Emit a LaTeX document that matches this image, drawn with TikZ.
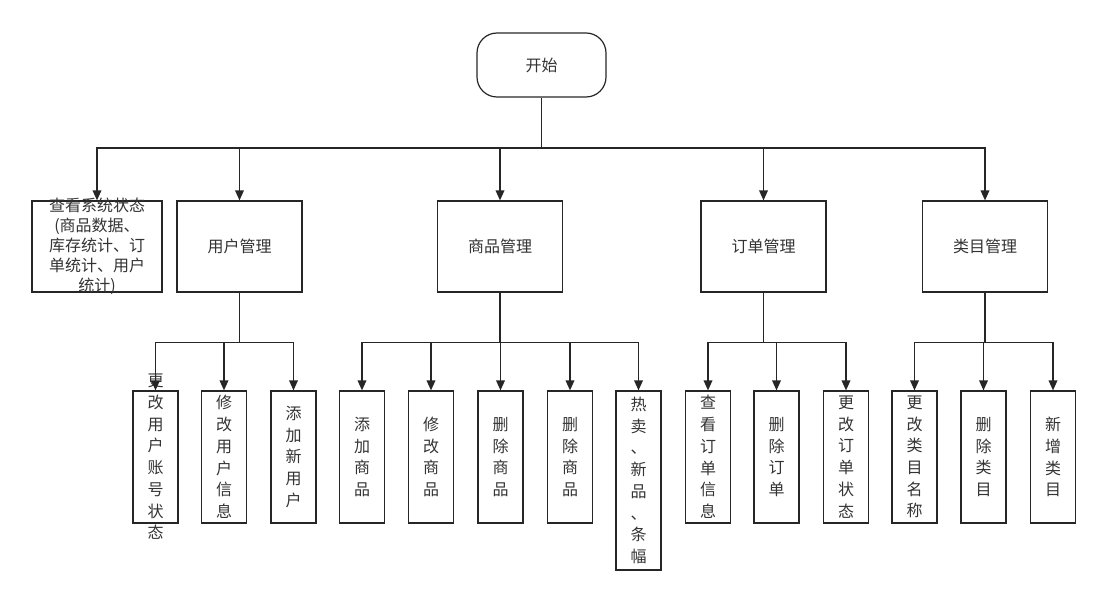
\documentclass[tikz,border=0pt]{standalone}
\usepackage{fontspec}
\newfontfamily\cjk{Noto Sans CJK SC}
\usetikzlibrary{arrows.meta}
\begin{document}
\begin{tikzpicture}[x=0.75pt,y=-0.75pt,
  line/.style={draw=black!85,line width=1pt},
  arr/.style={line,-{Triangle[width=6.5pt,length=7.5pt]}},
  boxbase/.style={draw=black!85,line width=0.9pt,inner sep=0pt},
  startbox/.style={boxbase,rounded corners=15pt,minimum width=96.75pt,minimum height=48pt,font=\cjk\fontsize{12}{15}\selectfont,text=black!80},
  topbox/.style={boxbase,minimum width=93.75pt,minimum height=68.25pt,font=\cjk\fontsize{12}{15}\selectfont,text=black!80,align=center},
  leaf/.style={boxbase,minimum width=33.75pt,minimum height=99pt},
  tallleaf/.style={boxbase,minimum width=33.75pt,minimum height=134.25pt},
  vtext/.style={inner sep=0pt,font=\cjk\fontsize{12}{16.3}\selectfont,text=black!80,align=center},
  ttext/.style={inner sep=0pt,font=\cjk\fontsize{12}{15}\selectfont,text=black!80,align=center}]
\useasboundingbox (0,0) rectangle (1107,602);

% start
\node[startbox] (start) at (541.5,65) {开始};

% level 1
\node[boxbase,minimum width=97.5pt,minimum height=68.25pt] (s) at (97,246.5) {};
\node[ttext] (st) at (s) {查看系统状态\\(商品数据、\\库存统计、订\\单统计、用户\\统计)};
\node[topbox] (u) at (239.5,246.5) {用户管理};
\node[topbox] (g) at (500,246.5) {商品管理};
\node[topbox] (o) at (763.5,246.5) {订单管理};
\node[topbox] (c) at (985,246.5) {类目管理};

% level 2: users
\node[leaf] (u1) at (155.5,457) {};
\node[vtext] (u1t) at (u1) {更\\改\\用\\户\\账\\号\\状\\态};
\node[leaf] (u2) at (224,457) {};
\node[vtext] (u2t) at (u2) {修\\改\\用\\户\\信\\息};
\node[leaf] (u3) at (293.5,457) {};
\node[vtext] (u3t) at (u3) {添\\加\\新\\用\\户};

% goods
\node[leaf] (g1) at (362,457) {};
\node[vtext] (g1t) at (g1) {添\\加\\商\\品};
\node[leaf] (g2) at (431,457) {};
\node[vtext] (g2t) at (g2) {修\\改\\商\\品};
\node[leaf] (g3) at (500.5,457) {};
\node[vtext] (g3t) at (g3) {删\\除\\商\\品};
\node[leaf] (g4) at (570,457) {};
\node[vtext] (g4t) at (g4) {删\\除\\商\\品};
\node[tallleaf] (g5) at (638.5,480.5) {};
\node[vtext] (g5t) at (g5) {热\\卖\\、\\新\\品\\、\\条\\幅};

% orders
\node[leaf] (o1) at (708,457) {};
\node[vtext] (o1t) at (o1) {查\\看\\订\\单\\信\\息};
\node[leaf] (o2) at (776.5,457) {};
\node[vtext] (o2t) at (o2) {删\\除\\订\\单};
\node[leaf] (o3) at (846,457) {};
\node[vtext] (o3t) at (o3) {更\\改\\订\\单\\状\\态};

% categories
\node[leaf] (c1) at (914.5,457) {};
\node[vtext] (c1t) at (c1) {更\\改\\类\\目\\名\\称};
\node[leaf] (c2) at (983.5,457) {};
\node[vtext] (c2t) at (c2) {删\\除\\类\\目};
\node[leaf] (c3) at (1053,457) {};
\node[vtext] (c3t) at (c3) {新\\增\\类\\目};

% connectors level 1
\coordinate (j0) at (541.5,148);
\draw[line] (start.south) -- (j0);
\foreach \n in {s,u,g,o,c} {\draw[arr] (j0) -| (\n.north);}

% connectors level 2
\path (u.south) ++(0,50) coordinate (ju);
\draw[line] (u.south) -- (ju);
\foreach \n in {u1,u2,u3} {\draw[arr] (ju) -| (\n.north);}
\path (g.south) ++(0,50) coordinate (jg);
\draw[line] (g.south) -- (jg);
\foreach \n in {g1,g2,g3,g4,g5} {\draw[arr] (jg) -| (\n.north);}
\path (o.south) ++(0,50) coordinate (jo);
\draw[line] (o.south) -- (jo);
\foreach \n in {o1,o2,o3} {\draw[arr] (jo) -| (\n.north);}
\path (c.south) ++(0,50) coordinate (jc);
\draw[line] (c.south) -- (jc);
\foreach \n in {c1,c2,c3} {\draw[arr] (jc) -| (\n.north);}
\end{tikzpicture}
\end{document}
